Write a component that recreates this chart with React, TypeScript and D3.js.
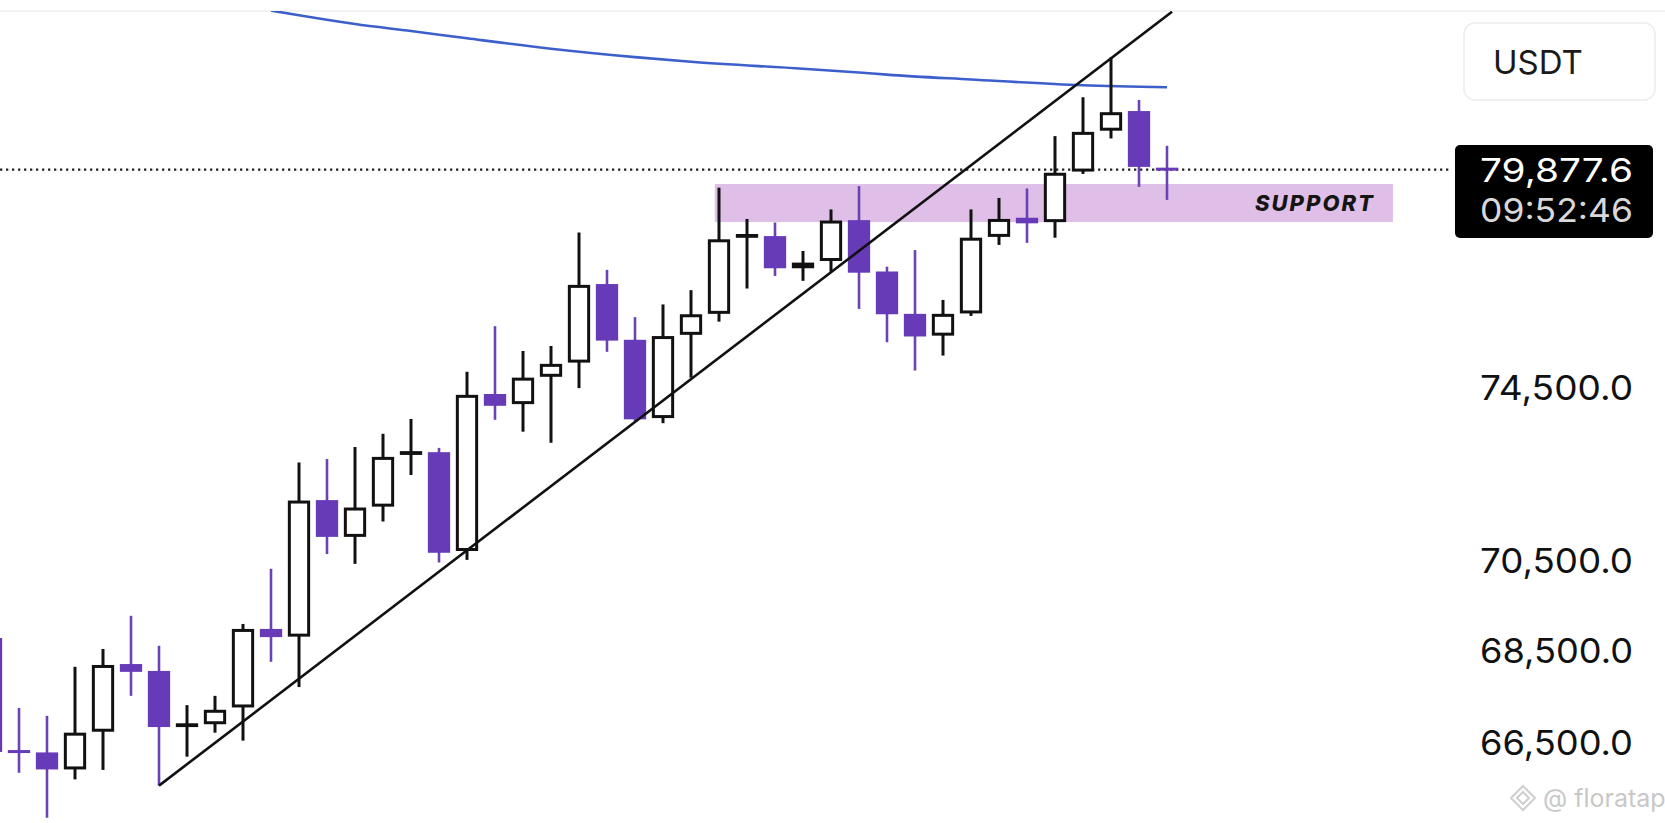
import React from "react";
import * as d3 from "d3";

// ---- Data ----
const OPEN = [68770, 66350, 66300, 65940, 66740, 68200, 68050, 66860, 66900, 67260, 68970, 68800, 71870, 71030, 71720, 72940, 72980, 70710, 74350, 74110, 74760, 75100, 77010, 75650, 73780, 75770, 76280, 78180, 78200, 77400, 77580, 78600, 77320, 76280, 75750, 76290, 78180, 78660, 78550, 79830, 80880, 81390, 79930];
const HIGH = [68950, 67250, 67080, 68140, 68530, 69260, 68600, 67310, 67510, 69080, 70310, 72740, 72820, 73100, 73410, 73760, 73080, 74880, 75980, 75380, 75500, 78290, 77360, 76200, 76510, 76860, 79420, 78630, 78540, 77830, 78870, 79460, 77440, 77850, 76620, 78870, 79160, 79400, 80740, 81750, 82800, 81680, 80490];
const LOW = [66140, 65870, 64930, 65730, 65930, 67510, 65600, 66210, 66720, 66550, 68250, 67700, 70640, 70420, 71380, 72450, 70450, 70510, 73740, 73460, 73200, 74490, 75360, 73710, 73660, 74740, 76090, 76900, 77210, 77090, 77310, 76400, 75590, 74910, 75270, 76230, 77980, 78030, 78160, 79770, 80680, 79440, 79110];
const CLOSE = [66310, 66290, 65940, 66720, 68180, 68030, 66840, 66900, 67210, 68970, 68790, 71860, 71030, 71700, 72870, 72980, 70670, 74330, 74070, 74740, 75070, 76990, 75630, 73750, 75740, 76270, 78120, 78230, 77400, 77540, 78590, 77290, 76270, 75730, 76280, 78160, 78630, 78520, 79800, 80850, 81360, 79950, 79877.6];

// moving average (candle index, value)
const MA_INDEX = [10, 11, 13, 15, 17, 20, 23, 25, 29, 31, 32, 35, 39, 42];
const MA_VALUE = [84048, 83920, 83686, 83499, 83305, 83028, 82805, 82681, 82499, 82401, 82343, 82215, 82062, 82010];

// trend line: from candle 6 low upward
const TREND_INDEX = [6, 42.18];
const TREND_VALUE = [65600, 84016];

// support zone
const SUPPORT_INDEX = [25.85, 50.07];
const SUPPORT_VALUE = [78553, 79513];

const Y_TICKS = [66500, 68500, 70500, 74500];
const LAST_PRICE = 79877.6;
const COUNTDOWN = "09:52:46";
const QUOTE = "USDT";

const W = 1665;
const H = 823;
const PURPLE = "#673ab7";
const WICK_PURPLE = "#6a42b4";
const FONT = "Inter, 'Noto Sans', 'Liberation Sans', sans-serif";

export default function App() {
  const x = d3.scaleLinear().domain([0, 42]).range([-9, 1167]);
  const y = d3.scaleLog().domain([66500, 74500]).range([743, 387.7]);
  const fmt = d3.format(",.1f");

  const maLine = d3
    .line<number>()
    .x((_, i) => x(MA_INDEX[i]))
    .y((v) => y(v))
    .curve(d3.curveMonotoneX)(MA_VALUE) as string;

  const trendLine = d3
    .line<number>()
    .x((_, i) => x(TREND_INDEX[i]))
    .y((v) => y(v))(TREND_VALUE) as string;

  const candles = OPEN.map((o, i) => ({ i, o, h: HIGH[i], l: LOW[i], c: CLOSE[i], bull: CLOSE[i] >= o }));
  const yLast = y(LAST_PRICE);

  return (
    <svg
      width={W}
      height={H}
      viewBox={`0 0 ${W} ${H}`}
      style={{ position: "fixed", left: 0, top: 0, background: "#fff" }}
    >
      <defs>
        <clipPath id="plot">
          <rect x={0} y={11} width={1452} height={H - 11} />
        </clipPath>
      </defs>
      <rect x={0} y={0} width={W} height={H} fill="#fff" />
      <line x1={0} x2={W} y1={11} y2={11} stroke="#eeeeee" strokeWidth={1.5} />

      {/* y-axis labels */}
      {Y_TICKS.map((t) => (
        <text
          key={t}
          x={1633}
          y={y(t)}
          dy="0.36em"
          textAnchor="end"
          fontFamily={FONT}
          fontSize={34}
          fill="#111"
          textLength={153}
          lengthAdjust="spacingAndGlyphs"
        >
          {fmt(t)}
        </text>
      ))}

      <g clipPath="url(#plot)">
        {/* support zone */}
        <rect
          x={x(SUPPORT_INDEX[0])}
          width={x(SUPPORT_INDEX[1]) - x(SUPPORT_INDEX[0])}
          y={y(SUPPORT_VALUE[1])}
          height={y(SUPPORT_VALUE[0]) - y(SUPPORT_VALUE[1])}
          fill="#dfbfe8"
        />
        <text
          x={x(SUPPORT_INDEX[1]) - 20}
          y={(y(SUPPORT_VALUE[0]) + y(SUPPORT_VALUE[1])) / 2}
          dy="0.36em"
          textAnchor="end"
          fontFamily={FONT}
          fontWeight={800}
          fontStyle="italic"
          fontSize={22}
          fill="#151515"
          textLength={118}
          lengthAdjust="spacing"
        >
          SUPPORT
        </text>

        {/* moving average */}
        <path d={maLine} fill="none" stroke="#3c5fcb" strokeWidth={2.6} />

        {/* last price dotted line */}
        <line x1={0} x2={1455} y1={yLast} y2={yLast} stroke="#222" strokeWidth={2.2} strokeDasharray="2.3 3.7" />

        {/* wicks */}
        {candles.map((d) => (
          <line
            key={"w" + d.i}
            x1={x(d.i)}
            x2={x(d.i)}
            y1={y(d.h)}
            y2={y(d.l)}
            stroke={d.bull ? "#111" : WICK_PURPLE}
            strokeWidth={d.bull ? 3 : 2.6}
          />
        ))}
        {/* bodies */}
        {candles.map((d) =>
          d.bull ? (
            <rect
              key={"b" + d.i}
              x={x(d.i) - 9.65}
              width={19.3}
              y={Math.min(y(d.c) + 1.5, (y(d.c) + y(d.o)) / 2 - 0.4)}
              height={Math.max(0.8, y(d.o) - y(d.c) - 3)}
              fill="#fff"
              stroke="#111"
              strokeWidth={3}
            />
          ) : (
            <rect
              key={"b" + d.i}
              x={x(d.i) - 11.15}
              width={22.3}
              y={y(d.o)}
              height={Math.max(3, y(d.c) - y(d.o))}
              fill={PURPLE}
            />
          )
        )}

        {/* trend line */}
        <path d={trendLine} fill="none" stroke="#111" strokeWidth={2.6} />
      </g>

      {/* quote currency button */}
      <rect x={1464} y={23} width={191} height={77} rx={11} fill="#fff" stroke="#ececec" strokeWidth={1.5} />
      <text x={1493} y={62} dy="0.36em" fontFamily={FONT} fontSize={33} fill="#1a1a1a">
        {QUOTE}
      </text>

      {/* last price tag */}
      <rect x={1455} y={145} width={198} height={93} rx={5} fill="#000" />
      <text
        x={1633}
        y={yLast}
        dy="0.36em"
        textAnchor="end"
        fontFamily={FONT}
        fontSize={33}
        fill="#fff"
        textLength={153}
        lengthAdjust="spacingAndGlyphs"
      >
        {fmt(LAST_PRICE)}
      </text>
      <text
        x={1633}
        y={210}
        dy="0.36em"
        textAnchor="end"
        fontFamily={FONT}
        fontSize={33}
        fill="#d8d8d8"
        textLength={153}
        lengthAdjust="spacingAndGlyphs"
      >
        {COUNTDOWN}
      </text>

      {/* watermark */}
      <g fill="none" stroke="#cfcfcf" strokeWidth={2}>
        <path d="M1523 786 L1535 798 L1523 810 L1511 798 Z" />
        <path d="M1517 798 L1523 792 L1529 798 L1523 804 Z" />
      </g>
      <text x={1543} y={798} dy="0.36em" fontFamily={FONT} fontSize={25} fill="#c8c8c8">
        @ floratap
      </text>
    </svg>
  );
}
